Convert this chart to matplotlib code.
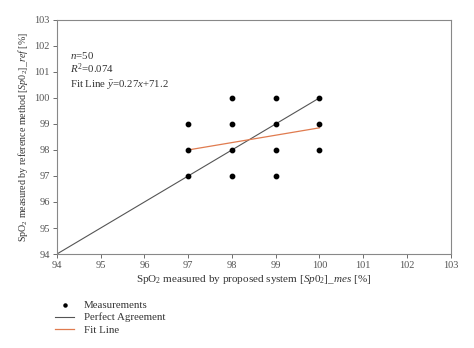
import matplotlib.pyplot as plt
import numpy as np

plt.rcParams['font.family'] = ['Liberation Serif', 'DejaVu Serif']
plt.rcParams['mathtext.fontset'] = 'custom'
plt.rcParams['mathtext.rm'] = 'Liberation Serif'
plt.rcParams['mathtext.it'] = 'Liberation Serif:italic'

# measured (proposed system) vs reference SpO2 values
mes = [97, 97, 97, 98, 98, 98, 98, 99, 99, 99, 99, 100, 100, 100]
ref = [99, 98, 97, 100, 99, 98, 97, 100, 99, 98, 97, 100, 99, 98]

# perfect agreement line and fit line end points
perfect_x = [94, 100]
perfect_y = [94, 100]
fit_x = [97, 100]
fit_y = [98.0, 98.85]

ticks = np.arange(94, 104)

fig = plt.figure(figsize=(4.74, 3.48), dpi=100)
ax = fig.add_axes([0.120, 0.270, 0.831, 0.673])

ax.plot(perfect_x, perfect_y, color='#555555', lw=0.8, label='Perfect Agreement')
ax.plot(fit_x, fit_y, color='#e07b4f', lw=0.9, label='Fit Line')
ax.scatter(mes, ref, s=10, color='black', zorder=3, label='Measurements')

ax.set_xlim(94, 103)
ax.set_ylim(94, 103)
ax.set_xticks(ticks)
ax.set_yticks(ticks)
ax.tick_params(labelsize=7.5, colors='#555555', length=3, width=0.6, pad=2)
for s in ax.spines.values():
    s.set_color('#888888')
    s.set_linewidth(0.8)

ax.set_xlabel(r'SpO$_2$ measured by proposed system [$Sp0_2$]_$mes$ [%]',
              fontsize=8, color='#333333', labelpad=2)
ax.set_ylabel(r'SpO$_2$ measured by reference method [$Sp0_2$]_$ref$ [%]',
              fontsize=7.2, color='#333333', labelpad=3)

ax.text(94.3, 101.5, r'$n$=50', fontsize=7.8, color='#333333')
ax.text(94.3, 100.95, r'$R^2$=0.074', fontsize=7.8, color='#333333')
ax.text(94.3, 100.4, r'Fit Line $\bar{y}$=0.27$x$+71.2', fontsize=7.8, color='#333333')

h, l = ax.get_legend_handles_labels()
order = [2, 0, 1]
fig.legend([h[i] for i in order], [l[i] for i in order], loc='upper left',
           bbox_to_anchor=(0.095, 0.165), frameon=False, fontsize=7.8,
           handlelength=1.8, handletextpad=0.9, labelspacing=0.25,
           markerscale=0.7, labelcolor='#333333')

fig.savefig('out.png', dpi=100)
